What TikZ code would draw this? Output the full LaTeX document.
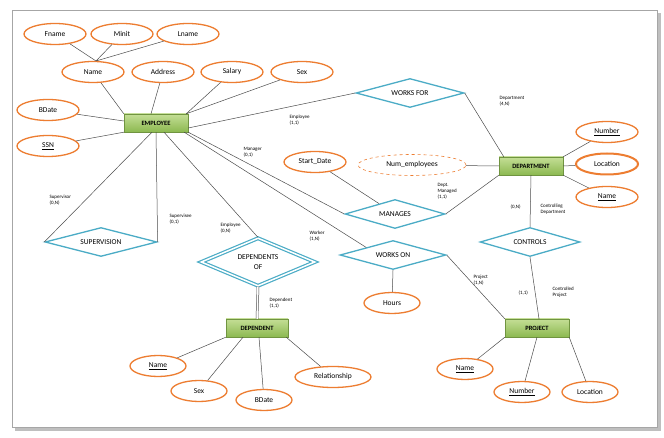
\documentclass[tikz,border=0pt]{standalone}
\usepackage{fontspec}
\setmainfont{Carlito}
\usetikzlibrary{shapes.geometric,calc}
\definecolor{attr}{RGB}{237,125,49}
\definecolor{rel}{RGB}{75,172,198}
\definecolor{entT}{RGB}{196,222,150}
\definecolor{entB}{RGB}{140,185,80}
\begin{document}
\begin{tikzpicture}[x=1pt,y=-1pt,
 attr/.style={ellipse,draw=attr,line width=1.3pt,minimum width=62pt,minimum height=21pt,inner sep=0pt,font=\fontsize{7.5}{8}\selectfont},
 ent/.style={rectangle,draw=entB!80!black,top color=entT,bottom color=entB,minimum width=64pt,minimum height=18pt,inner sep=0pt,font=\bfseries\fontsize{6.5}{7}\selectfont},
 rel/.style={diamond,aspect=3.4,draw=rel,line width=1.3pt,inner sep=0pt,minimum width=100pt,minimum height=29pt,font=\fontsize{7.5}{8}\selectfont},
 lbl/.style={font=\fontsize{5}{6}\selectfont,align=left,anchor=west},
 ln/.style={draw=black!70,line width=0.5pt}]
\useasboundingbox (0,0) rectangle (664,438);
\fill[black!25] (15,13) rectangle (661,431);
\draw[black!35,fill=white] (12,10) rectangle (657,427);
% entities
\node[ent] (emp) at (156,123) {EMPLOYEE};
\node[ent] (dept) at (531,166) {DEPARTMENT};
\node[ent,minimum width=62pt] (dep) at (257,328) {DEPENDENT};
\node[ent] (proj) at (537,328) {PROJECT};
% attributes
\node[attr] (fname) at (55,34) {Fname};
\node[attr] (minit) at (122,34) {Minit};
\node[attr] (lname) at (188,34) {Lname};
\node[attr] (name) at (93,72) {Name};
\node[attr] (addr) at (163,72) {Address};
\node[attr] (sal) at (232,72) {Salary};
\node[attr] (sex) at (302,72) {Sex};
\node[attr] (bdate) at (48,110) {BDate};
\node[attr] (ssn) at (48,146) {\underline{SSN}};
\node[attr] (dnum) at (607,132) {\underline{Number}};
\node[attr,line width=2pt] (dloc) at (607,164) {Location};
\node[attr] (dname) at (607,197) {\underline{Name}};
\node[attr,dashed,line width=0.6pt,minimum width=108pt] (numemp) at (412,165) {Num\_employees};
\node[attr] (start) at (315,162) {Start\_Date};
\node[attr,minimum width=56pt] (hours) at (392,303) {Hours};
\node[attr,minimum width=56pt] (depname) at (158,366) {\underline{Name}};
\node[attr,minimum width=56pt] (depsex) at (199,391) {Sex};
\node[attr,minimum width=56pt] (depbd) at (264,400) {BDate};
\node[attr,minimum width=76pt] (rship) at (333,377) {Relationship};
\node[attr,minimum width=56pt] (pname) at (465,369) {\underline{Name}};
\node[attr,minimum width=56pt] (pnum) at (522,392) {\underline{Number}};
\node[attr,minimum width=56pt] (ploc) at (590,392) {Location};
% relationships
\node[rel,minimum width=108pt] (wf) at (410,93) {WORKS FOR};
\node[rel] (man) at (395,214) {MANAGES};
\node[rel] (ctl) at (530,242) {CONTROLS};
\node[rel,minimum width=112pt] (sup) at (101,242) {SUPERVISION};
\node[rel,minimum width=106pt] (won) at (393,255) {WORKS ON};
\node[rel,double=white,double distance=1.5pt,line width=1.2pt,aspect=2.3,minimum width=114pt,minimum height=48pt,align=center] (dof) at (258,262) {DEPENDENTS\\[2pt]OF};
% connectors
\draw[ln] (fname) -- (96,61) (minit) -- (96,61) (lname) -- (96,61);
\draw[ln] (name) -- (emp.north west) (addr) -- ($(emp.north)+(-5,0)$);
\draw[ln] (sal) -- ($(emp.north east)+(-2,0)$) (sex) -- ($(emp.north east)+(-2,0)$);
\draw[ln] (bdate) -- ($(emp.west)+(0,-2)$) (ssn) -- (emp.south west);
\draw[ln] ($(emp.east)+(0,5)$) -- (wf.west);
\draw[ln] (wf.east) -- ($(dept.north west)+(5,0)$);
\draw[ln] (dept.north east) -- (dnum) (dept.east) -- (dloc) (dept.south east) -- (dname);
\draw[ln] (numemp) -- (dept.west);
\draw[ln] (start) -- (man);
\draw[ln] (emp.south east) -- (man.west);
\draw[ln] (man.east) -- (dept.south west);
\draw[ln] (dept.south) -- (ctl.north);
\draw[ln] (ctl.south) -- ($(proj.north)+(2,0)$);
\draw[ln] ($(emp.south east)+(-4,0)$) -- (won.north west);
\draw[ln] (won.east) -- (proj.north west);
\draw[ln] (won.south) -- (hours);
\draw[ln] ($(emp.south)+(8,0)$) -- (dof.north);
\draw[ln] ($(emp.south)+(-4,0)$) -- (sup.west);
\draw[ln] ($(emp.south)+(0,0)$) -- (sup.east);
\draw[ln,double,double distance=1.5pt] (dof.south) -- (dep.north);
\draw[ln] (dep.south west) -- (depname) (dep.south) ++(-14,0) -- (depsex);
\draw[ln] ($(dep.south)+(2,0)$) -- (depbd) ($(dep.south east)+(-2,0)$) -- (rship);
\draw[ln] (proj.south west) -- (pname) (proj.south) -- (pnum) (proj.south east) -- (ploc);
% labels
\node[lbl] (l1) at (286,120) {Employee\\(1,1)};
\node[lbl] (l2) at (496,101) {Department\\(4,N)};
\node[lbl] (l3) at (240,152) {Manager\\(0,1)};
\node[lbl] (l4) at (434,191) {Dept.\\Managed\\(1,1)};
\node[lbl] (l5) at (507,207) {(0,N)};
\node[lbl] (l6) at (537,209) {Controlling\\Department};
\node[lbl] (l7) at (46,200) {Supervisor\\(0,N)};
\node[lbl] (l8) at (166,219) {Supervisee\\(0,1)};
\node[lbl] (l9) at (217,228) {Employee\\(0,N)};
\node[lbl] (l10) at (306,236) {Worker\\(1,N)};
\node[lbl] (l11) at (266,303) {Dependent\\(1,1)};
\node[lbl] (l12) at (470,280) {Project\\(1,N)};
\node[lbl] (l13) at (515,293) {(1,1)};
\node[lbl] (l14) at (549,292) {Controlled\\Project};
\end{tikzpicture}
\end{document}
